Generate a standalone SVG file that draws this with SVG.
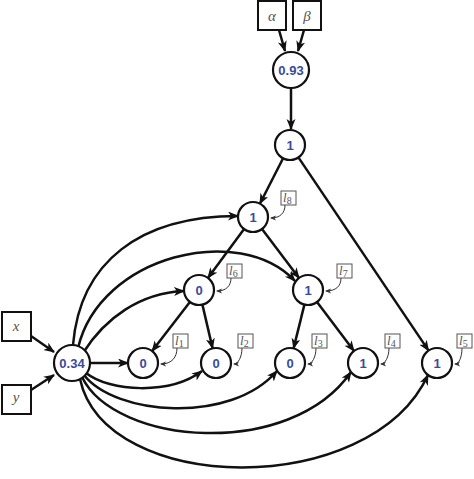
<svg xmlns="http://www.w3.org/2000/svg" width="474" height="479" viewBox="0 0 474 479">
<defs>
<style>
.node circle{fill:#fff;stroke:#111;stroke-width:2.2}
.node text{font-family:"Liberation Sans",Arial,sans-serif;font-weight:bold;font-size:13px;fill:#3a4a9c;text-anchor:middle}
.inp rect{fill:#fff;stroke:#111;stroke-width:2}
.inp text{font-family:"Liberation Serif","Times New Roman",serif;font-style:italic;font-size:15px;fill:#555;text-anchor:middle}
.lab rect{fill:#fff;stroke:#555;stroke-width:1}
.lab text{font-family:"Liberation Serif","Times New Roman",serif;font-size:13px;fill:#555}
.e{fill:none;stroke:#111;stroke-width:2.5;marker-end:url(#ah)}
.le{fill:none;stroke:#333;stroke-width:1;marker-end:url(#sh)}
</style>
<marker id="ah" markerUnits="userSpaceOnUse" markerWidth="12" markerHeight="10" refX="10" refY="4.5" orient="auto">
<path d="M0,0 L11,4.5 L0,9 L3,4.5 z" fill="#111"/>
</marker>
<marker id="sh" markerUnits="userSpaceOnUse" markerWidth="7" markerHeight="6" refX="5" refY="2.5" orient="auto">
<path d="M0,0 L6,2.5 L0,5 L1.5,2.5 z" fill="#333"/>
</marker>
</defs>
<rect width="474" height="479" fill="#fff"/>

<g id="connectors">
<path class="e" d="M279,30 L285,51"/>
<path class="e" d="M304,30 L298,51"/>
<path class="e" d="M291,88 L291,129"/>
<path class="e" d="M283.1,158.3 L259.9,203.7"/>
<path class="e" d="M298.4,157.4 L428.6,350.6"/>
<path class="e" d="M244.1,229.1 L207.9,277.9"/>
<path class="e" d="M262,229 L299,278"/>
<path class="e" d="M189.9,301.9 L152.1,351.1"/>
<path class="e" d="M202.4,304.6 L212.6,348.4"/>
<path class="e" d="M304.4,304.6 L293.6,348.4"/>
<path class="e" d="M317,302 L354,351"/>
<path class="e" d="M31,336 L54,352"/>
<path class="e" d="M31,390 L54,375"/>
<path class="e" d="M90,363 L128,363"/>
<path class="e" d="M73,345 C80,262 140,216 238,216"/>
<path class="e" d="M78,348 C100,255 240,222 295,281"/>
<path class="e" d="M83,353 C105,318 140,293 184,291"/>
<path class="e" d="M86,373 C110,392 170,395 202,371"/>
<path class="e" d="M84,375 C115,415 230,425 277,371"/>
<path class="e" d="M82,377 C115,445 290,460 351,372"/>
<path class="e" d="M80,379 C105,495 370,500 428,375"/>
<!-- label connectors -->
<path class="le" d="M285,205 C285,213 280,218 271,218"/>
<path class="le" d="M231,278 C231,286 226,291 217,291"/>
<path class="le" d="M341,278 C341,286 336,291 326,291"/>
<path class="le" d="M177,348 C177,357 172,364 161,364"/>
<path class="le" d="M242,348 C242,357 238,364 234,364"/>
<path class="le" d="M316,348 C316,357 312,364 308,364"/>
<path class="le" d="M389,348 C389,357 385,364 381,364"/>
<path class="le" d="M462,348 C462,357 459,364 455,364"/>
</g>

<g id="in-alpha" class="inp"><rect x="258" y="1" width="28" height="29"/><text x="272" y="21">α</text></g>
<g id="in-beta" class="inp"><rect x="293" y="1" width="28" height="29"/><text x="307" y="21">β</text></g>
<g id="in-x" class="inp"><rect x="2" y="312" width="29" height="29"/><text x="16" y="331">x</text></g>
<g id="in-y" class="inp"><rect x="2" y="385" width="29" height="29"/><text x="16" y="402">y</text></g>

<g id="n093" class="node"><circle cx="291" cy="70" r="18"/><text x="291" y="75">0.93</text></g>
<g id="n034" class="node"><circle cx="72" cy="363" r="18"/><text x="72" y="368">0.34</text></g>
<g id="ntop" class="node"><circle cx="290" cy="145" r="15"/><text x="290" y="150">1</text></g>
<g id="n8" class="node"><circle cx="253" cy="217" r="15"/><text x="253" y="222">1</text></g>
<g id="n6" class="node"><circle cx="199" cy="290" r="15"/><text x="199" y="295">0</text></g>
<g id="n7" class="node"><circle cx="308" cy="290" r="15"/><text x="308" y="295">1</text></g>
<g id="n1" class="node"><circle cx="143" cy="363" r="15"/><text x="143" y="368">0</text></g>
<g id="n2" class="node"><circle cx="216" cy="363" r="15"/><text x="216" y="368">0</text></g>
<g id="n3" class="node"><circle cx="290" cy="363" r="15"/><text x="290" y="368">0</text></g>
<g id="n4" class="node"><circle cx="363" cy="363" r="15"/><text x="363" y="368">1</text></g>
<g id="n5" class="node"><circle cx="437" cy="363" r="15"/><text x="437" y="368">1</text></g>

<g id="lab8" class="lab"><rect x="281" y="191" width="15" height="14"/><text x="283" y="202"><tspan font-style="italic">l</tspan><tspan font-size="10" dy="2">8</tspan></text></g>
<g id="lab6" class="lab"><rect x="227" y="264" width="15" height="14"/><text x="229" y="275"><tspan font-style="italic">l</tspan><tspan font-size="10" dy="2">6</tspan></text></g>
<g id="lab7" class="lab"><rect x="337" y="264" width="15" height="14"/><text x="339" y="275"><tspan font-style="italic">l</tspan><tspan font-size="10" dy="2">7</tspan></text></g>
<g id="lab1" class="lab"><rect x="173" y="334" width="15" height="14"/><text x="175" y="345"><tspan font-style="italic">l</tspan><tspan font-size="10" dy="2">1</tspan></text></g>
<g id="lab2" class="lab"><rect x="238" y="334" width="15" height="14"/><text x="240" y="345"><tspan font-style="italic">l</tspan><tspan font-size="10" dy="2">2</tspan></text></g>
<g id="lab3" class="lab"><rect x="312" y="334" width="15" height="14"/><text x="314" y="345"><tspan font-style="italic">l</tspan><tspan font-size="10" dy="2">3</tspan></text></g>
<g id="lab4" class="lab"><rect x="385" y="334" width="15" height="14"/><text x="387" y="345"><tspan font-style="italic">l</tspan><tspan font-size="10" dy="2">4</tspan></text></g>
<g id="lab5" class="lab"><rect x="457" y="334" width="15" height="14"/><text x="459" y="345"><tspan font-style="italic">l</tspan><tspan font-size="10" dy="2">5</tspan></text></g>
</svg>
